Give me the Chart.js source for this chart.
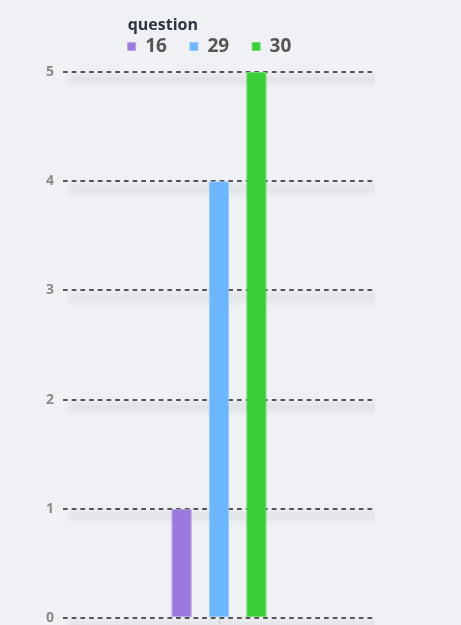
<!DOCTYPE html>
<html>
<head>
<meta charset="utf-8">
<script src="https://cdn.jsdelivr.net/npm/chart.js@4/dist/chart.umd.min.js"></script>
<style>
  html, body { margin: 0; padding: 0; background: #f0f1f5; overflow: hidden; }
  #wrap { position: absolute; left: 0; top: 0; width: 420px; height: 660px; }
</style>
</head>
<body>
<div id="wrap"><canvas id="c"></canvas></div>
<script>
const legendTitle = 'question';
const categories = [''];
const seriesNames = ['16', '29', '30'];
const seriesValues = [[1], [4], [5]];
const seriesColors = ['#9b79dd', '#6cb5ff', '#3bce3b'];
const seriesBorders = ['#bba3ea', '#94c9ff', '#72db72'];
const yTicks = [0, 1, 2, 3, 4, 5];

const gridShadow = {
  id: 'gridShadow',
  beforeDatasetsDraw(chart) {
    const { ctx, chartArea } = chart;
    const y = chart.scales.y;
    ctx.save();
    ctx.beginPath();
    ctx.rect(chartArea.left, chartArea.top - 20, chartArea.right - chartArea.left, chartArea.bottom - chartArea.top + 40);
    ctx.clip();
    ctx.filter = 'blur(3px)';
    ctx.fillStyle = 'rgba(0,0,0,0.06)';
    yTicks.forEach(v => {
      const py = y.getPixelForValue(v);
      ctx.fillRect(chartArea.left + 6, py + 3, chartArea.right - chartArea.left + 10, 9);
    });
    ctx.restore();
  }
};

const legendHeading = {
  id: 'legendHeading',
  afterDraw(chart) {
    const lg = chart.legend;
    if (!lg || !lg.legendHitBoxes || !lg.legendHitBoxes.length) return;
    const { ctx } = chart;
    ctx.save();
    ctx.font = 'bold 16px "Open Sans"';
    ctx.fillStyle = '#2d3540';
    ctx.textAlign = 'left';
    ctx.textBaseline = 'middle';
    ctx.fillText(legendTitle, lg.legendHitBoxes[0].left, lg.top + 11);
    ctx.restore();
  }
};

new Chart(document.getElementById('c'), {
  type: 'bar',
  data: {
    labels: categories,
    datasets: seriesNames.map((n, i) => ({
      label: n,
      data: seriesValues[i],
      backgroundColor: seriesColors[i],
      borderColor: seriesBorders[i],
      borderWidth: 1,
      borderSkipped: false,
      categoryPercentage: 0.36,
      barPercentage: 0.55
    }))
  },
  plugins: [gridShadow, legendHeading],
  options: {
    responsive: true,
    maintainAspectRatio: false,
    animation: false,
    devicePixelRatio: 1,
    layout: { padding: { left: 44, right: 45, top: 14, bottom: 0 } },
    plugins: {
      tooltip: { enabled: false },
      legend: {
        position: 'top',
        align: 'center',
        labels: {
          boxWidth: 8,
          boxHeight: 8,
          padding: 23,
          color: '#555555',
          font: { family: 'Open Sans', size: 19, weight: 'bold' }
        }
      },
      subtitle: {
        display: true,
        text: ' ',
        position: 'top',
        weight: 900,
        padding: 0,
        font: { size: 5 }
      }
    },
    scales: {
      x: {
        offset: true,
        grid: { display: true, drawOnChartArea: false, drawTicks: true, tickLength: 6, offset: false, color: '#cfd0d4' },
        border: { display: false },
        ticks: { display: false },
        afterFit(scale) { scale.height = 42; }
      },
      y: {
        min: 0,
        max: 5,
        afterBuildTicks(scale) { scale.ticks = yTicks.map(v => ({ value: v })); },
        afterFit(scale) { scale.width = 19; },
        grid: { color: '#575757', lineWidth: 2, drawTicks: false },
        border: { display: false, dash: [4.7, 4] },
        ticks: {
          padding: 9,
          color: '#8a8a8a',
          font: { family: 'Open Sans', size: 14, weight: 'bold' }
        }
      }
    }
  }
});
</script>
</body>
</html>
